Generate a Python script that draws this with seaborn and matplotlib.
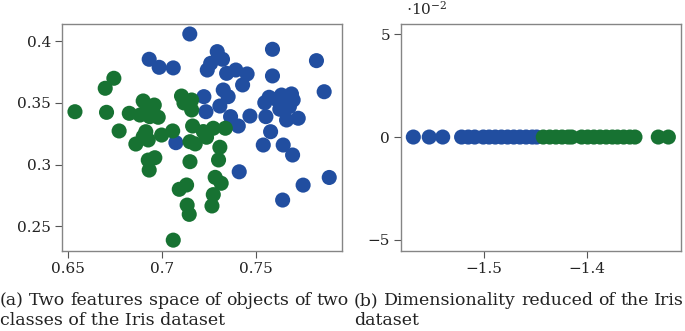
import numpy as np
import pandas as pd
import seaborn as sns
import matplotlib.pyplot as plt
from matplotlib.ticker import FuncFormatter

# (a) two features, class 1 (blue)
blue_x = [0.7150, 0.7296, 0.7324, 0.7261, 0.7243, 0.7346, 0.7395, 0.7455, 0.7431,
          0.7590, 0.7590, 0.7824, 0.7865, 0.7328, 0.7354, 0.7225, 0.7310, 0.7236,
          0.7367, 0.7408, 0.7470, 0.7549, 0.7572, 0.7555, 0.7638, 0.7691, 0.7700,
          0.7629, 0.7665, 0.7727, 0.7651, 0.7580, 0.7541, 0.7647, 0.7697, 0.7413,
          0.7753, 0.7892, 0.7644, 0.6934, 0.6987, 0.7062, 0.7076, 0.7680, 0.7610]
blue_y = [0.4059, 0.3916, 0.3854, 0.3821, 0.3767, 0.3740, 0.3767, 0.3735, 0.3646,
          0.3935, 0.3719, 0.3843, 0.3591, 0.3605, 0.3551, 0.3551, 0.3475, 0.3429,
          0.3389, 0.3313, 0.3394, 0.3502, 0.3546, 0.3389, 0.3564, 0.3573, 0.3524,
          0.3449, 0.3362, 0.3376, 0.3497, 0.3267, 0.3159, 0.3159, 0.3078, 0.2942,
          0.2834, 0.2896, 0.2713, 0.3854, 0.3789, 0.3784, 0.3178, 0.3470, 0.3530]

# (a) two features, class 2 (green)
green_x = [0.6539, 0.6746, 0.6700, 0.6707, 0.6774, 0.6828, 0.6902, 0.6961, 0.6885,
           0.6937, 0.6982, 0.6916, 0.6863, 0.6929, 0.7000, 0.7059, 0.6929, 0.6964,
           0.6934, 0.7106, 0.7160, 0.7119, 0.7160, 0.7165, 0.7151, 0.7151, 0.7094,
           0.7133, 0.7136, 0.7147, 0.7062, 0.7179, 0.7239, 0.7222, 0.7275, 0.7339,
           0.7310, 0.7303, 0.7285, 0.7317, 0.7275, 0.7268, 0.6902, 0.6920]
green_y = [0.3429, 0.3700, 0.3619, 0.3424, 0.3273, 0.3416, 0.3516, 0.3483, 0.3402,
           0.3389, 0.3384, 0.3267, 0.3167, 0.3200, 0.3240, 0.3273, 0.3037, 0.3056,
           0.2956, 0.3556, 0.3524, 0.3500, 0.3443, 0.3313, 0.3186, 0.3024, 0.2800,
           0.2835, 0.2672, 0.2597, 0.2388, 0.3168, 0.3222, 0.3268, 0.3295, 0.3295,
           0.3141, 0.3038, 0.2897, 0.2849, 0.2757, 0.2665, 0.3227, 0.3443]

# (b) one-dimensional projection
pc_blue = [-1.5688, -1.5533, -1.5402, -1.5218, -1.5153, -1.5090, -1.5007, -1.4950,
           -1.4890, -1.4830, -1.4770, -1.4710, -1.4650, -1.4590, -1.4530, -1.4487]
pc_green = [-1.4423, -1.4360, -1.4300, -1.4240, -1.4180, -1.4146, -1.4049, -1.3990,
            -1.3930, -1.3870, -1.3810, -1.3750, -1.3700, -1.3640, -1.3580, -1.3530,
            -1.3303, -1.3205]

caption_a = ["(a) Two features space of objects of two", "classes of the Iris dataset"]
caption_b = ["(b) Dimensionality reduced of the Iris", "dataset"]

blue = "#214ea0"
green = "#177232"

df_a = pd.DataFrame({
    "x": blue_x + green_x,
    "y": blue_y + green_y,
    "cls": ["b"] * len(blue_x) + ["g"] * len(green_x),
})
df_b = pd.DataFrame({
    "x": pc_blue + pc_green,
    "y": np.zeros(len(pc_blue) + len(pc_green)),
    "cls": ["b"] * len(pc_blue) + ["g"] * len(pc_green),
})

sns.set_style("ticks")
plt.rcParams["font.family"] = ["DejaVu Serif"]
plt.rcParams["mathtext.fontset"] = "dejavuserif"
plt.rcParams["font.size"] = 11

W, H = 685, 331
fig = plt.figure(figsize=(W / 100, H / 100), dpi=100)
ax1 = fig.add_axes([0.0905, 0.2417, 0.4088, 0.6858])
ax2 = fig.add_axes([0.5854, 0.2426, 0.4083, 0.6849])

pal = {"b": blue, "g": green}
sns.scatterplot(data=df_a, x="x", y="y", hue="cls", palette=pal, s=118,
                linewidth=0, legend=False, ax=ax1)
sns.scatterplot(data=df_b, x="x", y="y", hue="cls", palette=pal, s=118,
                linewidth=0, legend=False, ax=ax2)

ax1.set_xlim(0.647, 0.796)
ax1.set_ylim(0.230, 0.414)
ax1.set_xticks([0.65, 0.7, 0.75])
ax1.set_xticklabels(["0.65", "0.7", "0.75"])
ax1.set_yticks([0.25, 0.3, 0.35, 0.4])
ax1.set_yticklabels(["0.25", "0.3", "0.35", "0.4"])

ax2.set_xlim(-1.5808, -1.3085)
ax2.set_ylim(-0.0552, 0.0549)
ax2.set_xticks([-1.5, -1.4])
ax2.set_yticks([-0.05, 0, 0.05])
ax2.yaxis.set_major_formatter(FuncFormatter(lambda v, p: f"{v * 100:.0f}".replace("-", "\u2212")))
ax2.xaxis.set_major_formatter(FuncFormatter(lambda v, p: f"{v:.1f}".replace("-", "\u2212")))
fig.text(406 / W, 1 - 15 / H, r"$\cdot10^{-2}$", fontsize=11, ha="left", va="baseline")

for ax in (ax1, ax2):
    ax.set_xlabel("")
    ax.set_ylabel("")
    for sp in ax.spines.values():
        sp.set_color("#858585")
        sp.set_linewidth(1.0)
    ax.tick_params(direction="out", length=5, width=0.8, color="#555555",
                   labelsize=11, labelcolor="#222222", pad=3)


# justified captions like a LaTeX subcaption
def justified(line, x0, x1, y):
    words = line.split(" ")
    texts = [fig.text(0, y, w, fontsize=12.5, ha="left", va="baseline", color="#222222")
             for w in words]
    r = fig.canvas.get_renderer()
    widths = [t.get_window_extent(r).width for t in texts]
    gap = (x1 - x0 - sum(widths)) / (len(words) - 1)
    x = x0
    for t, w in zip(texts, widths):
        t.set_x(x / W)
        x += w + gap


def plain(line, x0, y):
    fig.text(x0 / W, y, line, fontsize=12.5, ha="left", va="baseline", color="#222222")


justified(caption_a[0], 0, 349, 1 - 305 / H)
plain(caption_a[1], 0, 1 - 325 / H)
justified(caption_b[0], 354, 684, 1 - 305 / H)
plain(caption_b[1], 354, 1 - 325 / H)

fig.savefig("out.png", dpi=100)
